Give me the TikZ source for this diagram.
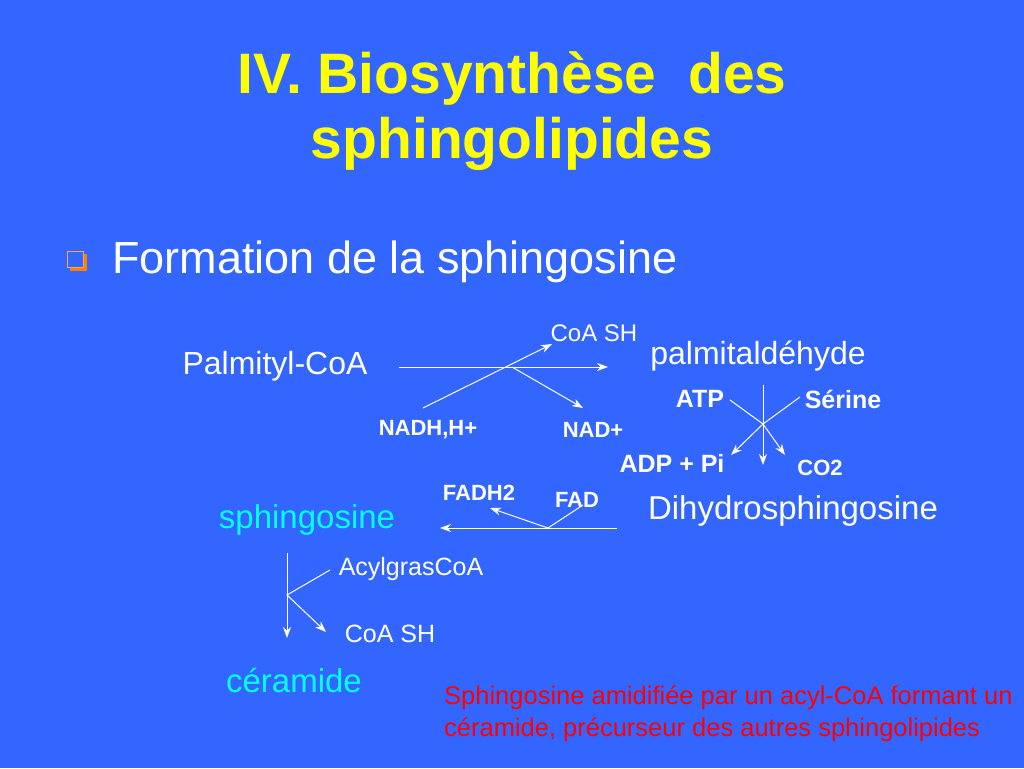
\documentclass[tikz,border=0pt]{standalone}
\usepackage{fontspec}
\setmainfont{Liberation Sans}
\usetikzlibrary{arrows.meta}
\definecolor{bg}{RGB}{51,102,255}
\definecolor{cy}{RGB}{0,255,255}
\definecolor{yl}{RGB}{255,255,0}
\definecolor{rd}{RGB}{255,0,0}
\begin{document}
\begin{tikzpicture}[x=1pt,y=-1pt,
  ln/.style={white,line width=1pt},
  ar/.style={ln,-{Stealth[length=11pt,width=8pt]}},
  t/.style={white,inner sep=0pt},
  sz/.style={font=\fontsize{#1}{#1}\selectfont},
  bsz/.style={font=\fontsize{#1}{#1}\selectfont\bfseries}]
\fill[bg] (0,0) rectangle (1024,768);
\node[inner sep=0, text=yl, align=center, font=\fontsize{57}{65}\selectfont\bfseries] (title) at (512,111) {IV. Biosynthèse~ des\\sphingolipides};
\node[inner sep=0] (bul) at (77,261) {\tikz[x=1pt,y=-1pt]{\fill[orange] (3,3) rectangle (20,20); \fill[bg,draw=orange!70!white,line width=0.8pt] (0,0) rectangle (16,16);}};
\node[t,anchor=west,sz=45] (sub) at (112,262) {Formation de la sphingosine};
\node[t,sz=32] (palm) at (275,366) {Palmityl-CoA};
\node[t,sz=32] (pald) at (758,356) {palmitaldéhyde};
\node[t,sz=24] (coa1) at (594,333) {CoA SH};
\node[t,bsz=22] (nadh) at (428,430) {NADH,H+};
\node[t,bsz=22] (nad) at (593,430) {NAD+};
\node[t,bsz=25] (atp) at (700,399) {ATP};
\node[t,bsz=25] (ser) at (843,399) {Sérine};
\node[t,bsz=25] (adp) at (672,463) {ADP + Pi};
\node[t,bsz=22] (co2) at (820,468) {CO2};
\node[t,bsz=22] (fadh) at (479,493) {FADH2};
\node[t,bsz=22] (fad) at (577,500) {FAD};
\node[t,sz=33] (dihy) at (793,511) {Dihydrosphingosine};
\node[t,sz=33,text=cy] (sph) at (307,520) {sphingosine};
\node[t,sz=25] (acyl) at (411,569) {AcylgrasCoA};
\node[t,sz=25] (coa2) at (390,634) {CoA SH};
\node[t,sz=33,text=cy] (cer) at (294,681) {céramide};
\node[t,anchor=north west,align=left,text=rd,font=\fontsize{25.5}{32}\selectfont] (note) at (444,686) {Sphingosine amidifiée par un acyl-CoA formant un\\céramide, précurseur des autres sphingolipides};
% reaction 1
\coordinate (a1) at (399,367); \coordinate (a2) at (608,367);
\draw[ar] (a1) -- (a2);
\coordinate (n1) at (423,408); \coordinate (n2) at (552,344);
\draw[ar] (n1) -- (n2);
\coordinate (d1) at (512,367); \coordinate (d2) at (583,408);
\draw[ar] (d1) -- (d2);
% reaction 2
\coordinate (v1) at (763,385); \coordinate (v2) at (763,465);
\draw[ar] (v1) -- (v2);
\coordinate (x0) at (763,424);
\coordinate (p1) at (730,400); \coordinate (p2) at (785,455);
\draw[ar] (p1) -- (x0) -- (p2);
\coordinate (s1) at (800,397); \coordinate (s2) at (731,455);
\draw[ar] (s1) -- (x0) -- (s2);
% reaction 3
\coordinate (b1) at (617,528); \coordinate (b2) at (440,528);
\draw[ar] (b1) -- (b2);
\coordinate (f1) at (583,505); \coordinate (f0) at (548,528); \coordinate (f2) at (490,508);
\draw[ar] (f1) -- (f0) -- (f2);
% reaction 4
\coordinate (c1) at (287,553); \coordinate (c2) at (287,638);
\draw[ar] (c1) -- (c2);
\coordinate (g1) at (330,570); \coordinate (g0) at (287,595); \coordinate (g2) at (326,632);
\draw[ar] (g1) -- (g0) -- (g2);
\end{tikzpicture}
\end{document}
